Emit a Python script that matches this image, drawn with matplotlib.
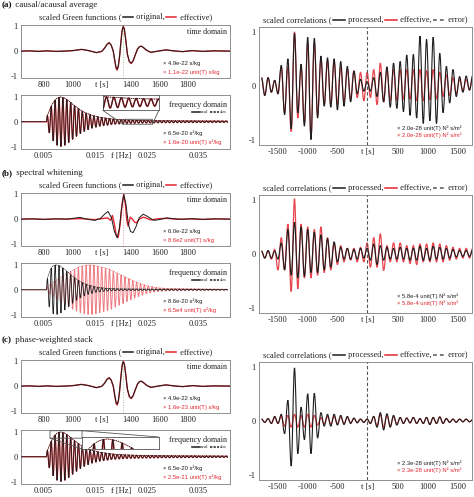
import numpy as np
import matplotlib.pyplot as plt
from matplotlib.offsetbox import TextArea, DrawingArea, HPacker, AnchoredOffsetbox
from matplotlib.lines import Line2D
from matplotlib.path import Path
from matplotlib.patches import PathPatch

# ---------------- data ----------------
# time-domain Green functions (sample points read at extrema / crossings)
green_t_ac = [640, 700, 760, 820, 880, 940, 1000, 1060, 1110, 1163,
              1200, 1220, 1237, 1252, 1266, 1280, 1292, 1300, 1307, 1315,
              1324, 1333, 1341, 1349, 1357, 1366, 1378, 1392, 1405, 1418,
              1432, 1448, 1462, 1474, 1490, 1510, 1540, 1590, 1645, 1700,
              1760, 1830, 1900, 1980, 2090]
green_orig_ac = [0.0, 0.01, -0.01, 0.01, -0.01, 0.0, 0.02, 0.07, 0.02, -0.06,
                 -0.01, 0.12, 0.27, 0.33, 0.24, 0.0, -0.42, -0.66, -0.73, -0.6,
                 -0.2, 0.35, 0.8, 0.98, 0.88, 0.5, -0.12, -0.42, -0.48, -0.38,
                 -0.16, 0.08, 0.18, 0.2, 0.14, 0.04, -0.05, 0.0, 0.05, 0.01,
                 -0.02, 0.02, -0.01, 0.01, 0.0]
green_eff_ac = [0.0, 0.01, -0.01, 0.01, -0.01, 0.0, 0.02, 0.07, 0.02, -0.06,
                -0.01, 0.12, 0.28, 0.34, 0.24, 0.0, -0.44, -0.69, -0.76, -0.62,
                -0.2, 0.36, 0.82, 1.0, 0.9, 0.5, -0.12, -0.43, -0.5, -0.39,
                -0.16, 0.08, 0.18, 0.2, 0.14, 0.04, -0.05, 0.0, 0.05, 0.01,
                -0.02, 0.02, -0.01, 0.01, 0.0]
green_t_b = [640, 720, 800, 880, 960, 1048, 1100, 1150, 1190, 1220,
             1244, 1268, 1288, 1307, 1322, 1337, 1353, 1368, 1385, 1400,
             1418, 1438, 1460, 1488, 1520, 1560, 1600, 1650, 1700, 1760,
             1830, 1900, 1980, 2090]
green_orig_b = [0.0, 0.01, -0.01, 0.01, 0.0, 0.07, 0.0, -0.05, 0.02, 0.2,
                0.31, 0.05, -0.5, -0.75, -0.4, 0.4, 0.98, 0.6, -0.2, -0.5,
                -0.54, -0.3, 0.05, 0.2, 0.1, -0.05, -0.02, 0.05, 0.02, -0.01,
                0.02, -0.01, 0.01, 0.0]
green_t_b_eff = [640, 720, 800, 880, 960, 1050, 1150, 1200, 1240, 1262,
                 1274, 1288, 1300, 1314, 1328, 1341, 1353, 1364, 1374, 1383,
                 1398, 1413, 1428, 1441, 1460, 1490, 1540, 1600, 1660, 1720,
                 1800, 1900, 2000, 2090]
green_eff_b = [0.0, 0.01, -0.01, 0.01, 0.0, 0.02, -0.02, 0.02, 0.05, -0.05,
               0.15, -0.2, -0.62, -0.74, -0.2, 0.6, 1.0, 0.6, -0.05, -0.28,
               0.08, 0.0, -0.12, -0.15, 0.0, 0.08, -0.03, 0.02, 0.03, -0.01,
               0.01, -0.01, 0.01, 0.0]
green_peak_t = 1349

# frequency domain: |G| at successive extrema of the real part
freq_f0 = 0.0058
freq_step = 0.000375
freq_amp_ac = [0.25, 0.45, 0.62, 0.77, 0.88, 0.95, 0.99, 1.00, 0.98, 0.95,
               0.90, 0.84, 0.78, 0.71, 0.65, 0.59, 0.53, 0.48, 0.43, 0.39,
               0.35, 0.32, 0.29, 0.26, 0.24, 0.22, 0.20, 0.18, 0.17, 0.155,
               0.145, 0.135, 0.125, 0.115, 0.108, 0.10, 0.095, 0.09, 0.085, 0.08,
               0.075, 0.072, 0.069, 0.066, 0.063, 0.06, 0.058, 0.056, 0.054, 0.052,
               0.05, 0.049, 0.048, 0.047, 0.046, 0.045, 0.044, 0.043, 0.042, 0.041,
               0.04, 0.04, 0.039, 0.039, 0.038, 0.038, 0.037, 0.037, 0.036, 0.036,
               0.035, 0.035, 0.034, 0.034, 0.033, 0.033, 0.032, 0.032, 0.031, 0.031,
               0.03, 0.03, 0.03, 0.029, 0.029, 0.029, 0.028, 0.028, 0.028, 0.027,
               0.027, 0.027, 0.026, 0.026]
freq_orig_b = [0.45, 0.70, 0.88, 0.97, 1.00, 1.00, 0.98, 0.94, 0.88, 0.82,
               0.75, 0.68, 0.61, 0.55, 0.49, 0.43, 0.38, 0.33, 0.29, 0.25,
               0.22, 0.19, 0.17, 0.15, 0.13, 0.11, 0.10, 0.09, 0.08, 0.07,
               0.06, 0.055, 0.05, 0.045, 0.04, 0.038, 0.036, 0.034, 0.033, 0.032,
               0.031, 0.03, 0.029, 0.028, 0.028, 0.027, 0.027, 0.026, 0.026, 0.025,
               0.025, 0.024, 0.024, 0.023, 0.023, 0.022, 0.022, 0.022, 0.021, 0.021,
               0.021, 0.02, 0.02, 0.02, 0.02, 0.019, 0.019, 0.019, 0.019, 0.018,
               0.018, 0.018, 0.018, 0.018, 0.017, 0.017, 0.017, 0.017, 0.017, 0.016,
               0.016, 0.016, 0.016, 0.016, 0.016, 0.015, 0.015, 0.015, 0.015, 0.015,
               0.015, 0.015, 0.015, 0.015]
freq_eff_b = [0.12, 0.18, 0.23, 0.29, 0.35, 0.40, 0.45, 0.50, 0.55, 0.60,
              0.65, 0.70, 0.74, 0.79, 0.83, 0.87, 0.91, 0.94, 0.96, 0.98,
              0.99, 1.00, 1.00, 1.00, 0.99, 0.97, 0.95, 0.93, 0.91, 0.89,
              0.87, 0.85, 0.82, 0.79, 0.75, 0.71, 0.67, 0.63, 0.60, 0.56,
              0.52, 0.48, 0.45, 0.41, 0.37, 0.34, 0.31, 0.28, 0.25, 0.22,
              0.20, 0.17, 0.15, 0.13, 0.12, 0.10, 0.09, 0.08, 0.07, 0.065,
              0.06, 0.055, 0.053, 0.051, 0.049, 0.047, 0.045, 0.044, 0.043, 0.042,
              0.041, 0.04, 0.039, 0.038, 0.037, 0.036, 0.035, 0.034, 0.033, 0.032,
              0.031, 0.03, 0.029, 0.028, 0.027, 0.026, 0.025, 0.024, 0.023, 0.022,
              0.022, 0.021, 0.021, 0.02]

# correlations: amplitude at successive extrema
corr_t0 = -1759
corr_step = 54.8
corr_a_proc = [0.15, 0.18, 0.15, 0.12, 0.10, 0.15, 0.38, 0.54, 0.50, 0.80,
               0.97, 0.50, 0.40, 0.75, 0.90, 1.00, 0.88, 0.60, 0.55, 0.38,
               0.52, 0.40, 0.50, 0.45, 0.45, 0.38, 0.36, 0.30, 0.27, 0.15,
               0.12, 0.10, 0.08, 0.10, 0.15, 0.20, 0.25, 0.30, 0.35, 0.40,
               0.42, 0.42, 0.45, 0.48, 0.57, 0.55, 0.58, 0.60, 0.92, 0.70,
               0.86, 0.65, 0.90, 0.70, 0.60, 0.50, 0.36, 0.32, 0.30, 0.20,
               0.17, 0.12, 0.18, 0.08, 0.20]
corr_a_eff = [0.15, 0.18, 0.15, 0.12, 0.10, 0.15, 0.35, 0.50, 0.35, 0.85,
              1.00, 0.60, 0.35, 0.70, 0.80, 0.95, 0.80, 0.55, 0.50, 0.35,
              0.45, 0.35, 0.45, 0.35, 0.35, 0.30, 0.30, 0.25, 0.28, 0.22,
              0.25, 0.28, 0.25, 0.22, 0.30, 0.35, 0.42, 0.30, 0.30, 0.28,
              0.30, 0.28, 0.30, 0.25, 0.30, 0.25, 0.30, 0.28, 0.30, 0.28,
              0.28, 0.26, 0.30, 0.25, 0.25, 0.20, 0.20, 0.18, 0.15, 0.15,
              0.12, 0.10, 0.12, 0.08, 0.15]
corr_b_proc = [0.05, 0.08, 0.06, 0.08, 0.05, 0.10, 0.20, 0.30, 0.45, 0.40,
               0.58, 0.45, 0.50, 0.42, 0.45, 0.35, 0.40, 0.35, 0.35, 0.30,
               0.28, 0.25, 0.22, 0.15, 0.12, 0.10, 0.10, 0.10, 0.08, 0.10,
               0.10, 0.08, 0.10, 0.12, 0.18, 0.20, 0.15, 0.12, 0.12, 0.10,
               0.10, 0.10, 0.12, 0.10, 0.10, 0.12, 0.10, 0.12, 0.14, 0.12,
               0.10, 0.12, 0.14, 0.10, 0.12, 0.10, 0.10, 0.08, 0.08, 0.06,
               0.06, 0.05, 0.06, 0.05, 0.08]
corr_b_eff = [0.05, 0.08, 0.05, 0.10, 0.08, 0.30, 0.30, 0.30, 0.55, 0.70,
              1.02, 0.65, 0.55, 0.45, 0.50, 0.45, 0.45, 0.40, 0.50, 0.35,
              0.30, 0.30, 0.20, 0.20, 0.15, 0.15, 0.10, 0.12, 0.10, 0.15,
              0.12, 0.15, 0.20, 0.25, 0.30, 0.25, 0.37, 0.31, 0.15, 0.15,
              0.20, 0.15, 0.20, 0.15, 0.15, 0.18, 0.15, 0.20, 0.18, 0.15,
              0.18, 0.15, 0.20, 0.15, 0.18, 0.15, 0.15, 0.12, 0.12, 0.10,
              0.10, 0.08, 0.10, 0.08, 0.10]
corr_c_proc = [0.03, 0.03, 0.04, 0.05, 0.08, 0.05, 0.12, 0.24, 0.38, 0.84,
               0.98, 0.61, 0.25, 0.35, 0.50, 0.61, 0.51, 0.32, 0.15, 0.10,
               0.12, 0.10, 0.12, 0.08, 0.10, 0.07, 0.08, 0.05, 0.05, 0.04,
               0.03, 0.03, 0.03, 0.05, 0.08, 0.12, 0.15, 0.17, 0.13, 0.12,
               0.10, 0.08, 0.06, 0.05, 0.05, 0.04, 0.06, 0.05, 0.04, 0.05,
               0.06, 0.07, 0.06, 0.05, 0.07, 0.05, 0.04, 0.03, 0.03, 0.03,
               0.03, 0.02, 0.03, 0.02, 0.02]
corr_c_eff = [0.03, 0.03, 0.04, 0.05, 0.06, 0.05, 0.08, 0.10, 0.10, 0.12,
              0.12, 0.12, 0.10, 0.12, 0.12, 0.12, 0.10, 0.08, 0.06, 0.06,
              0.08, 0.07, 0.08, 0.06, 0.07, 0.05, 0.06, 0.04, 0.04, 0.03,
              0.03, 0.03, 0.03, 0.05, 0.08, 0.10, 0.12, 0.12, 0.10, 0.10,
              0.08, 0.07, 0.06, 0.05, 0.05, 0.04, 0.06, 0.05, 0.04, 0.05,
              0.06, 0.07, 0.06, 0.05, 0.07, 0.05, 0.04, 0.03, 0.03, 0.03,
              0.03, 0.02, 0.03, 0.02, 0.02]

section_titles = ['causal/acausal average', 'spectral whitening', 'phase-weighted stack']
green_scale = [('4.9e-22 s/kg', '1.1e-22 unit(T) s/kg'),
               ('6.0e-22 s/kg', '8.6e2 unit(T) s/kg'),
               ('4.9e-22 s/kg', '1.6e-23 unit(T) s/kg')]
freq_scale = [('6.5e-20 s²/kg', '1.6e-20 unit(T) s²/kg'),
              ('8.6e-20 s²/kg', '6.5e4 unit(T) s²/kg'),
              ('6.5e-20 s²/kg', '2.5e-21 unit(T) s²/kg')]
corr_scale = [('2.0e-28 unit(T) N² s/m²', '2.0e-28 unit(T) N² s/m²'),
              ('5.8e-4 unit(T) N² s/m²', '5.8e-4 unit(T) N² s/m²'),
              ('2.3e-28 unit(T) N² s/m²', '2.3e-28 unit(T) N² s/m²')]

t_ticks = [800, 1000, 1200, 1400, 1600, 1800]
t_labels = ['800', '1000', 't [s]', '1400', '1600', '1800']
f_ticks = [0.005, 0.015, 0.02, 0.025, 0.035]
f_labels = ['0.005', '0.015', 'f [Hz]', '0.025', '0.035']
c_ticks = [-1500, -1000, -500, 0, 500, 1000, 1500]
c_labels = ['-1500', '-1000', '-500', 't [s]', '500', '1000', '1500']
y_ticks = [-1, 0, 1]
y_labels = ['-1', '0', '1']

# ---------------- styling ----------------
plt.rcParams['font.family'] = ['Liberation Serif', 'DejaVu Serif']
SANS = ['Liberation Sans', 'DejaVu Sans']
BLACK = '#1e1e1e'
RED = '#e3262f'
FRAME = '#8f8f8f'

W, H = 474, 497
fig = plt.figure(figsize=(W / 100, H / 100), dpi=100)


def add_ax(l, t, r, b):
    return fig.add_axes([l / W, 1 - b / H, (r - l) / W, (b - t) / H])


def style(ax):
    for s in ax.spines.values():
        s.set_color(FRAME)
        s.set_linewidth(0.7)
    ax.tick_params(length=0, labelsize=6, pad=2.5, colors='#222222')
    ax.set_yticks(y_ticks)
    ax.set_yticklabels(y_labels)


def line_key(color, ls='-', w=7.0):
    da = DrawingArea(w, 4, 0, 0)
    da.add_artist(Line2D([0, w], [2, 2], color=color, lw=1.1, ls=ls))
    return da


def packed(parts, size):
    kids = []
    for p in parts:
        if isinstance(p, str):
            kids.append(TextArea(p, textprops=dict(fontsize=size, color='#222222')))
        else:
            kids.append(p)
    return HPacker(children=kids, align='center', pad=0, sep=1.0)


def place(box, x, y, transform, loc='center'):
    fig.add_artist(AnchoredOffsetbox(loc=loc, child=box, bbox_to_anchor=(x, y),
                                     bbox_transform=transform, frameon=False,
                                     pad=0, borderpad=0))


def signed(amp):
    a = np.asarray(amp, dtype=float)
    return a * np.where(np.arange(len(a)) % 2 == 0, 1.0, -1.0)


def wave(ax, x, y, color, lw, alpha=1.0, z=2, ls='-'):
    # smooth curve through the extrema: cubic Bezier pieces, flat at each extremum
    verts = [(x[0], y[0])]
    codes = [Path.MOVETO]
    for k in range(1, len(x)):
        dx = x[k] - x[k - 1]
        verts += [(x[k - 1] + 0.36 * dx, y[k - 1]), (x[k] - 0.36 * dx, y[k]), (x[k], y[k])]
        codes += [Path.CURVE4] * 3
    ax.add_patch(PathPatch(Path(verts, codes), fill=False, edgecolor=color, lw=lw,
                           alpha=alpha, zorder=z, ls=ls))


def freq_lines(ax, amp, color, lw, alpha=1.0, z=2):
    f = freq_f0 + freq_step * np.arange(len(amp))
    x = np.concatenate([[0.0005, freq_f0 - 0.0002], f])
    y = np.concatenate([[0.0, 0.0], signed(amp)])
    wave(ax, x, y, color, lw, alpha=alpha, z=z)
    ax.plot(f, amp, color=color, lw=0.5, ls=(0, (2, 1)), alpha=alpha, zorder=z)


def corr_line(ax, amp, color, lw, alpha=1.0, z=2):
    t = corr_t0 + corr_step * np.arange(len(amp))
    wave(ax, t, signed(amp), color, lw, alpha=alpha, z=z)


def scale_text(ax, x, y1, y2, pair):
    ax.text(x, y1, '× ' + pair[0], transform=ax.transAxes, fontsize=4.2,
            family=SANS, color=BLACK, va='center')
    ax.text(x, y2, '× ' + pair[1], transform=ax.transAxes, fontsize=4.2,
            family=SANS, color=RED, va='center')


offsets = [0, 168, 335]
green_series = [(green_t_ac, green_orig_ac, green_t_ac, green_eff_ac),
                (green_t_b, green_orig_b, green_t_b_eff, green_eff_b),
                (green_t_ac, green_orig_ac, green_t_ac, green_eff_ac)]
freq_series = [(freq_amp_ac, freq_amp_ac), (freq_orig_b, freq_eff_b),
               (freq_amp_ac, freq_amp_ac)]
corr_series = [(corr_a_proc, corr_a_eff), (corr_b_proc, corr_b_eff),
               (corr_c_proc, corr_c_eff)]
peak_colors = ['#9cc49c', '#e89a9a', '#9cc49c']

for i, dy in enumerate(offsets):
    # section label
    lab = packed([TextArea('(' + 'abc'[i] + ')',
                           textprops=dict(fontsize=6.5, weight='bold', color='#111111')),
                  ' ' + section_titles[i]], 6.5)
    place(lab, 0.003, 1 - (5 + dy) / H, fig.transFigure, loc='center left')

    # time-domain Green functions
    ax1 = add_ax(21, 25 + dy, 230, 78 + dy)
    style(ax1)
    gt, go, gte, ge = green_series[i]
    ax1.plot(gte, ge, color=RED, lw=1.0, zorder=2)
    ax1.plot(gt, go, color=BLACK, lw=0.7, zorder=3)
    ax1.axvline(green_peak_t, color=peak_colors[i], lw=0.7, ls=':', zorder=1)
    ax1.set_xlim(640, 2090)
    ax1.set_ylim(-1.08, 1.05)
    ax1.set_xticks(t_ticks)
    ax1.set_xticklabels(t_labels)
    ax1.text(0.985, 0.87, 'time domain', transform=ax1.transAxes, fontsize=5.8,
             ha='right', va='center', color='#222222')
    scale_text(ax1, 0.68, 0.28, 0.11, green_scale[i])
    place(packed(['scaled Green functions (', line_key(BLACK), ' original,',
                  line_key(RED), ' effective)'], 6),
          (21 + 230) / 2 / W, 1 - (17 + dy) / H, fig.transFigure)

    # frequency domain
    ax2 = add_ax(21, 95 + dy, 230, 149 + dy)
    style(ax2)
    fo, fe = freq_series[i]
    if i == 1:
        freq_lines(ax2, fe, RED, 0.7, alpha=0.6, z=2)
        freq_lines(ax2, fo, BLACK, 0.6, z=3)
    else:
        freq_lines(ax2, fe, RED, 0.9, z=2)
        freq_lines(ax2, fo, BLACK, 0.6, z=3)
    ax2.set_xlim(0.0007, 0.0411)
    ax2.set_ylim(-1.1, 1.08)
    ax2.set_xticks(f_ticks)
    ax2.set_xticklabels(f_labels)
    ax2.text(0.985, 0.82, 'frequency domain', transform=ax2.transAxes, fontsize=5.8,
             ha='right', va='center', color='#222222')
    place(packed([line_key(BLACK, w=6), 'real', line_key(BLACK, ls=(0, (1.5, 0.8)), w=6),
                  'abs'], 3.6),
          0.985, 0.69, ax2.transAxes, loc='center right')
    scale_text(ax2, 0.68, 0.30, 0.13, freq_scale[i])

    if i != 1:
        if i == 0:
            ins = ax2.inset_axes([0.39, 0.72, 0.27, 0.28])
            ins.set_xlim(0.0204, 0.0261)
            ins.set_ylim(-0.1, 0.1)
        else:
            ins = ax2.inset_axes([0.29, 0.65, 0.37, 0.22])
            ins.set_xlim(0.0063, 0.0125)
            ins.set_ylim(0.75, 1.05)
        freq_lines(ins, fe, RED, 1.1, z=2)
        freq_lines(ins, fo, BLACK, 0.7, z=3)
        ins.set_xticks([])
        ins.set_yticks([])
        for s in ins.spines.values():
            s.set_color('#555555')
            s.set_linewidth(0.6)
        ax2.indicate_inset_zoom(ins, edgecolor='#555555', alpha=1.0, linewidth=0.6)

    # correlations
    ax3 = add_ax(259, 27 + dy, 472, 145 + dy)
    style(ax3)
    cp, ce = corr_series[i]
    corr_line(ax3, ce, RED, 0.9, alpha=0.85, z=2)
    corr_line(ax3, cp, BLACK, 0.8, z=3)
    ax3.axvline(0, color='#555555', lw=0.8, ls=(0, (3, 2)), zorder=4)
    ax3.set_xlim(-1800, 1735)
    ax3.set_ylim(-1.1, 1.09)
    ax3.set_xticks(c_ticks)
    ax3.set_xticklabels(c_labels)
    scale_text(ax3, 0.65, 0.145, 0.085, corr_scale[i])
    place(packed(['scaled correlations (', line_key(BLACK, w=8.5), ' processed,',
                  line_key(RED, w=8.5), ' effective,',
                  line_key('#555555', ls=(0, (2.5, 2)), w=8.5), ' error)'], 6),
          (259 + 472) / 2 / W, 1 - (20 + dy) / H, fig.transFigure)

fig.savefig('out.png', dpi=100)
